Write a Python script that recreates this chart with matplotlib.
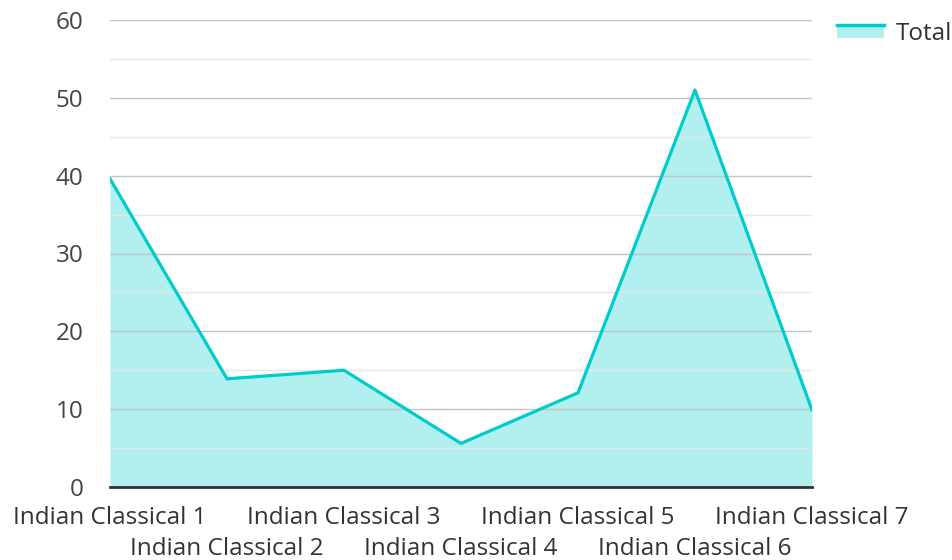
import matplotlib
matplotlib.use('Agg')
import matplotlib.pyplot as plt
from matplotlib.legend_handler import HandlerBase
from matplotlib.patches import Rectangle
from matplotlib.lines import Line2D

CATEGORIES = ['Indian Classical 1', 'Indian Classical 2', 'Indian Classical 3',
              'Indian Classical 4', 'Indian Classical 5', 'Indian Classical 6',
              'Indian Classical 7']
TOTAL = [39.6, 13.9, 15.0, 5.6, 12.1, 51.0, 9.9]
Y_TICKS = [0, 10, 20, 30, 40, 50, 60]

LINE_COLOR = '#00cccc'
FILL_COLOR = '#b2efef'
FONT_SIZE = 17.5

plt.rcParams['font.family'] = ['Open Sans', 'DejaVu Sans']


class AreaHandler(HandlerBase):
    # line sitting on top of the filled box, like the original legend key
    def create_artists(self, legend, orig_handle, xdescent, ydescent,
                       width, height, fontsize, trans):
        h = 0.75 * height
        y0 = -ydescent + 0.5 * height - h / 2
        rect = Rectangle((-xdescent, y0), width, h,
                         facecolor=FILL_COLOR, edgecolor='none', transform=trans)
        line = Line2D([-xdescent, -xdescent + width], [y0 + h, y0 + h],
                      color=LINE_COLOR, linewidth=2.5, transform=trans)
        return [rect, line]


fig = plt.figure(figsize=(9.53, 5.6), dpi=100)
ax = fig.add_axes([110 / 953, 1 - 487 / 560, 702 / 953, 467 / 560])

x = list(range(len(CATEGORIES)))
ax.fill_between(x, TOTAL, 0, color=FILL_COLOR, linewidth=0, zorder=1)
ax.plot(x, TOTAL, color=LINE_COLOR, linewidth=2.3, zorder=3)

ax.set_xlim(0, len(CATEGORIES) - 1)
ax.set_ylim(0, 60)
ax.set_yticks(Y_TICKS)
ax.set_yticks([5, 15, 25, 35, 45, 55], minor=True)
ax.set_yticklabels([], minor=True)
ax.grid(True, which='major', axis='y', color='#c4c4c4', linewidth=1, zorder=2)
ax.grid(True, which='minor', axis='y', color='#e6e6e6', linewidth=1, zorder=2)
ax.set_axisbelow(False)

# staggered category labels: odd ones on the first row, even ones below
ax.set_xticks(x[0::2])
ax.set_xticklabels(CATEGORIES[0::2])
ax.set_xticks(x[1::2], minor=True)
ax.set_xticklabels(CATEGORIES[1::2], minor=True)
ax.tick_params(axis='x', which='major', length=0, pad=13.5, labelsize=FONT_SIZE,
               labelcolor='#333333')
ax.tick_params(axis='x', which='minor', length=0, pad=36, labelsize=FONT_SIZE,
               labelcolor='#333333')
ax.tick_params(axis='y', which='both', length=0, pad=19, labelsize=FONT_SIZE,
               labelcolor='#444444')

for side in ['top', 'right', 'left']:
    ax.spines[side].set_visible(False)
ax.spines['bottom'].set_color('#333333')
ax.spines['bottom'].set_linewidth(2)
ax.spines['bottom'].set_zorder(4)

ax.legend([object()], ['Total'], handler_map={object: AreaHandler()},
          loc='center left', bbox_to_anchor=(837 / 953, 1 - 34 / 560),
          bbox_transform=fig.transFigure, frameon=False, fontsize=FONT_SIZE,
          labelcolor='#333333',
          handlelength=1.95, handletextpad=0.45, borderpad=0, borderaxespad=0)

fig.savefig('out.png', dpi=100)
